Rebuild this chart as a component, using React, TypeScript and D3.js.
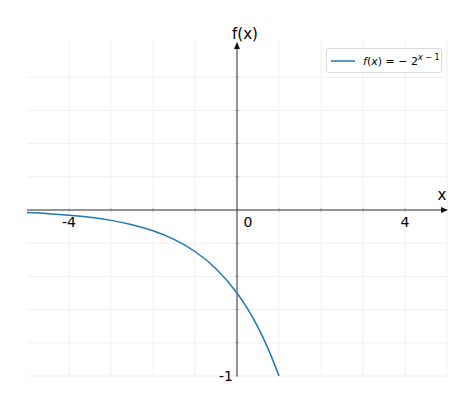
import React from "react";
import * as d3 from "d3";

const xValues = [-5, -4.5, -4, -3.5, -3, -2.5, -2, -1.5, -1, -0.5, 0, 0.25, 0.5, 0.75, 1];
const yValues = [-0.0156, -0.0221, -0.0313, -0.0442, -0.0625, -0.0884, -0.125, -0.1768, -0.25, -0.3536, -0.5, -0.5946, -0.7071, -0.8409, -1];
const xGridTicks = [-4, -3, -2, -1, 0, 1, 2, 3, 4, 5];
const yGridTicks = [-1, -0.8, -0.6, -0.4, -0.2, 0, 0.2, 0.4, 0.6, 0.8];
const xLabelTicks = [-4, 0, 4];
const yLabelTicks = [-1];

export default function App() {
  const W = 474, H = 412;
  const x = d3.scaleLinear().domain([-5, 5]).range([27, 447]);
  const y = d3.scaleLinear().domain([-1, 1]).range([376, 44]);
  const pts = xValues.map((v, i) => [v, yValues[i]] as [number, number]);
  const line = d3.line<[number, number]>().x(d => x(d[0])).y(d => y(d[1])).curve(d3.curveMonotoneX);
  const axisColor = "#333";
  const font = "DejaVu Sans, sans-serif";
  return (
    <svg width={W} height={H} style={{ position: "absolute", left: 0, top: 0, background: "#fff" }} fontFamily={font}>
      {/* grid */}
      {xGridTicks.map(t => (
        <line key={"gx" + t} x1={x(t)} x2={x(t)} y1={40} y2={y(-1)} stroke="#f0f0f0" strokeWidth={1} />
      ))}
      {yGridTicks.map(t => (
        <line key={"gy" + t} x1={x(-5)} x2={x(5)} y1={y(t)} y2={y(t)} stroke="#f0f0f0" strokeWidth={1} />
      ))}
      {/* axes */}
      <line x1={x(-5)} x2={x(5) - 5} y1={y(0)} y2={y(0)} stroke={axisColor} strokeWidth={1} />
      <line x1={x(0)} x2={x(0)} y1={y(-1)} y2={y(1) + 5} stroke={axisColor} strokeWidth={1} />
      <path d={`M${x(5) + 1},${y(0)} L${x(5) - 6},${y(0) - 3} L${x(5) - 6},${y(0) + 3} Z`} fill="#111" />
      <path d={`M${x(0)},${y(1) - 2} L${x(0) - 3},${y(1) + 5} L${x(0) + 3},${y(1) + 5} Z`} fill="#111" />
      {/* tick marks */}
      {xGridTicks.filter(t => t !== 0 && t !== 5).map(t => (
        <line key={"tx" + t} x1={x(t)} x2={x(t)} y1={y(0) - 1.5} y2={y(0) + 1.5} stroke="#777" strokeWidth={0.8} />
      ))}
      {yGridTicks.filter(t => t !== 0).map(t => (
        <line key={"ty" + t} x1={x(0) - 1.5} x2={x(0) + 1.5} y1={y(t)} y2={y(t)} stroke="#777" strokeWidth={0.8} />
      ))}
      {/* tick labels */}
      {xLabelTicks.map(t => (
        <text key={"lx" + t} x={x(t) + (t === 0 ? 11 : 0)} y={y(0) + 17} fontSize={14} textAnchor="middle" fill="#000">
          {t < 0 ? "-" + Math.abs(t) : String(t)}
        </text>
      ))}
      {yLabelTicks.map(t => (
        <text key={"ly" + t} x={x(0) - 4} y={y(t) + 5} fontSize={14} textAnchor="end" fill="#000">
          {t < 0 ? "-" + Math.abs(t) : String(t)}
        </text>
      ))}
      {/* axis labels */}
      <text x={442} y={200} fontSize={15} textAnchor="middle" fill="#000">x</text>
      <text x={245} y={39} fontSize={15} textAnchor="middle" fill="#000">f(x)</text>
      {/* curve */}
      <path d={line(pts) || ""} fill="none" stroke="#1f77b4" strokeWidth={1.5} />
      {/* legend */}
      <rect x={326.5} y={48.5} width={115} height={24} rx={2} fill="#fff" fillOpacity={0.8} stroke="#d0d0d0" strokeWidth={0.8} />
      <line x1={331} x2={355} y1={61} y2={61} stroke="#1f77b4" strokeWidth={1.5} />
      <text x={363} y={65} fontSize={11} fill="#000">
        <tspan fontStyle="italic">f</tspan>
        <tspan>(</tspan>
        <tspan fontStyle="italic">x</tspan>
        <tspan>) = − 2</tspan>
        <tspan fontSize={8} dy={-5} fontStyle="italic">x</tspan>
        <tspan fontSize={8}> − 1</tspan>
      </text>
    </svg>
  );
}
